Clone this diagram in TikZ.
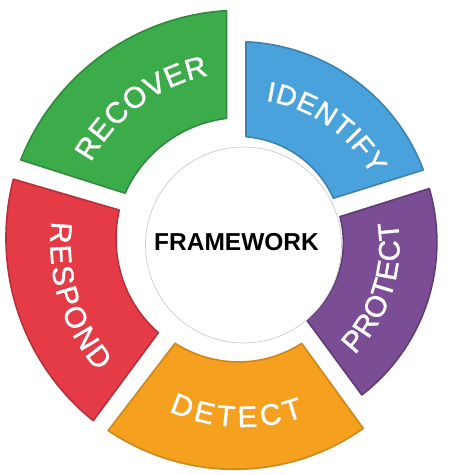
\documentclass[tikz,border=0pt]{standalone}
\usepackage{fontspec}
\setmainfont{Liberation Sans}
\newfontfamily\segfont[FakeBold=1.3]{Liberation Sans}
\usetikzlibrary{decorations.text}
\definecolor{cgreen}{HTML}{3CAC4B}
\definecolor{cblue}{HTML}{4AA2DD}
\definecolor{cpurple}{HTML}{7B4D95}
\definecolor{corange}{HTML}{F6A01F}
\definecolor{cred}{HTML}{E53B47}
\pgfdeclareradialshading{ballshade}{\pgfpoint{0bp}{0bp}}{color(0bp)=(white); color(28bp)=(white); color(41bp)=(black!8); color(50bp)=(black!34)}
\tikzset{
  segRecover/.style={fill=cgreen, draw=cgreen!80!black, line width=1.6, line join=round},
  segIdentify/.style={fill=cblue, draw=cblue!80!black, line width=1.6, line join=round},
  segProtect/.style={fill=cpurple, draw=cpurple!78!black, line width=1.6, line join=round},
  segDetect/.style={fill=corange, draw=corange!84!black, line width=1.6, line join=round},
  segRespond/.style={fill=cred, draw=cred!80!black, line width=1.6, line join=round},
  segtext/.style={decorate, decoration={text along path, text color=white, text align={fit to path}}},
  fwtext/.style={font=\bfseries\fontsize{24.5}{24.5}\selectfont, text=black, inner sep=0pt}
}
% #1 style, outer arc: (#2 angle, #3 radius) -> (#4, #5); inner arc: (#6,#7) -> (#8,#9)
\newcommand\wseg[9]{%
  \path[#1] plot[domain=0:1,samples=60,variable=\s]
    ({243+(#3+((#5)-(#3))*\s)*cos(#2+((#4)-(#2))*\s)},{230+(#3+((#5)-(#3))*\s)*sin(#2+((#4)-(#2))*\s)})
  -- plot[domain=0:1,samples=60,variable=\s]
    ({243+(#7+((#9)-(#7))*\s)*cos(#6+((#8)-(#6))*\s)},{230+(#7+((#9)-(#7))*\s)*sin(#6+((#8)-(#6))*\s)})
  -- cycle;}
\begin{document}
\begin{tikzpicture}[x=1pt,y=1pt]
\useasboundingbox (0,0) rectangle (474,475);
\fill[white] (0,0) rectangle (474,475);
% segments
\wseg{segRecover}{94.0}{234.9}{159.1}{238.0}{156.3}{128.8}{97.3}{127.7}
\wseg{segIdentify}{22.6}{195.3}{89.2}{203.3}{88.4}{108.3}{27.3}{101.7}
\wseg{segProtect}{308.4}{191.3}{376.9}{194.7}{376.3}{101.0}{310.3}{98.4}
\wseg{segDetect}{234.0}{229.4}{303.3}{219.3}{300.8}{114.5}{235.3}{119.5}
\wseg{segRespond}{164.0}{238.9}{229.6}{230.8}{226.0}{121.9}{164.2}{128.6}
% centre
\shade[shading=ballshade] (243.5,230) circle[radius=98];
\draw[black!22, line width=0.6] (243.5,230) circle[radius=98];
\node[fwtext] (fw) at (236.5,233.3) {FRAMEWORK};
% labels
\path[segtext, decoration={text={|\segfont\fontsize{29.5}{29.5}\selectfont|RECOVER}}]
  ([shift={(243,230)}]151.5:173) arc[start angle=151.5, end angle=101.5, radius=173];
\path[segtext, decoration={text={|\segfont\fontsize{28}{28}\selectfont|IDENTIFY}}]
  ([shift={(243,230)}]81:146) arc[start angle=81, end angle=28.5, radius=146];
\path[segtext, decoration={text={|\segfont\fontsize{29.5}{29.5}\selectfont|PROTECT}}]
  ([shift={(243,230)}]-44.5:156.5) arc[start angle=-44.5, end angle=8.5, radius=156.5];
\path[segtext, decoration={text={|\segfont\fontsize{29.5}{29.5}\selectfont|DETECT}}]
  ([shift={(243,230)}]-114:182) arc[start angle=-114, end angle=-70.5, radius=182];
\path[segtext, decoration={text={|\segfont\fontsize{29.5}{29.5}\selectfont|RESPOND}}]
  ([shift={(243,230)}]173:192.5) arc[start angle=173, end angle=221, radius=192.5];
\end{tikzpicture}
\end{document}
